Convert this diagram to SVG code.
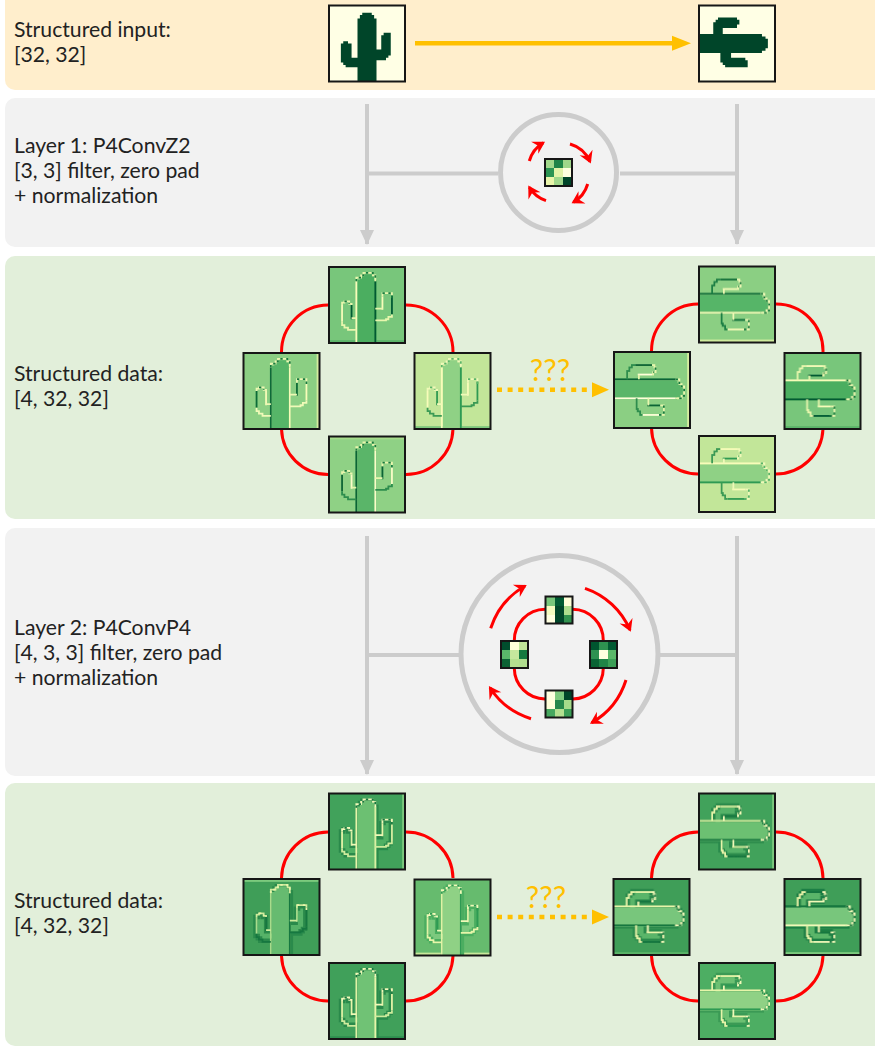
<svg xmlns="http://www.w3.org/2000/svg" width="875" height="1047" viewBox="0 0 875 1047">
<style>
text{font-family:Lato,"Open Sans","Liberation Sans",sans-serif;font-size:21.2px;fill:#222}
.q{font-size:30px;fill:#ffc000;text-anchor:middle}
.gray{fill:none;stroke:#ccc;stroke-width:4}
.ring{fill:none;stroke:#ccc;stroke-width:5}
.arc{fill:none;stroke:#f00;stroke-width:3}
.spin{fill:none;stroke:#f00;stroke-width:3;marker-end:url(#red)}
.gold{fill:none;stroke:#ffc000;stroke-width:4.5}
.dots{stroke-dasharray:5 5.6;marker-end:url(#goldHead)}
.frame{fill:none;stroke:#161616;stroke-width:2}
.ed{fill:none;stroke-width:.75}
</style>
<defs>
<filter id="soft" x="-5%" y="-5%" width="110%" height="110%"><feGaussianBlur stdDeviation="0.45"/></filter>
<marker id="grayHead" markerUnits="userSpaceOnUse" markerWidth="18" markerHeight="18" refX="14" refY="8" orient="auto"><path d="M0 1 L15 8 L0 15 Z" fill="#ccc"/></marker>
<marker id="goldHead" markerUnits="userSpaceOnUse" markerWidth="20" markerHeight="20" refX="1" refY="9" orient="auto"><path d="M0 1.500 L17 9 L0 16.500 Z" fill="#ffc000"/></marker>
<marker id="goldHead2" markerUnits="userSpaceOnUse" markerWidth="22" markerHeight="20" refX="3" refY="9" orient="auto"><path d="M0 1.500 L19 9 L0 16.500 Z" fill="#ffc000"/></marker>
<marker id="red" markerUnits="userSpaceOnUse" markerWidth="16" markerHeight="16" refX="11" refY="8" orient="auto"><path d="M1 1 L13 8 L1 15 L5 8 Z" fill="#f00"/></marker>
<path id="cactus" d="M12 32V5.500H13V4H14V3H18V4H19V5.500H20V18.500H22V12.500H23V11.500H26V21H25V22H24V23H20V26H12V26H7V25H6V24H5V16H6V15H8V16H9.500V22H12Z"/>
<g id="fmap">
<rect width="76" height="76" style="fill:var(--bg)"/>
<g filter="url(#soft)">
<g transform="scale(2.375)">
<rect x="0" y="30.800" width="32" height="1.200" style="fill:var(--sb,none)"/>
<rect x="30.800" y="0" width="1.200" height="32" style="fill:var(--sr,none)"/>
<rect x="0" y="0" width="32" height="1.200" style="fill:var(--st,none)"/>
<path d="M12 32V26H7V25H6V24H5V16H6V15H8V16H9.500V22H12V5.500H13V4H14V3H18V4H19V5.500H20V18.500H22V12.500H23V11.500H26V21H25V22H24V23H20V32" style="fill:var(--arm,none);stroke:var(--halo,none);stroke-width:1.800"/>
<path d="M12 32V5.500H13V4H14V3H18V4H19V5.500H20V32Z" style="fill:var(--tr)"/>
<path class="ed" d="M11.500 32V6M5.500 23V16M22.500 18V12.500" style="stroke:var(--L)"/>
<path class="ed" d="M19.500 32V6M9.500 22V16M26.500 20V12" style="stroke:var(--R)"/>
<path class="ed" d="M11.500 6V4.500H13.500V3.500H14.500V2.500H18.500V3.500H19.500V6M5.500 16V15H6.500V14.500H8.500V15.500H9.500V16M9.500 21.500H11.500M22.500 12.500V11H26.500V12M19.500 17.500H22.500" style="stroke:var(--T)"/>
<path class="ed" d="M5.500 23V24.500H6.500V25.500H8V26.500H11.500M26.500 20V21H25V22H24V22.500H19.500" style="stroke:var(--B)"/>
<path class="ed" stroke-dasharray="1 1.500" d="M11.500 6V4.500H13.500V3.500H14.500V2.500H18.500V3.500H19.500V6M6.500 14.500H8.500V15.500M22.500 11H26.500V13" style="stroke:var(--dot,none)"/>
</g>
</g>
<rect class="frame" width="76" height="76"/>
</g>
</defs>

<g id="panels">
<rect x="5" y="-12" width="880" height="102" rx="10" fill="#ffeecc"/>
<rect x="5" y="98" width="880" height="149" rx="10" fill="#f2f2f2"/>
<rect x="5" y="256" width="880" height="263" rx="10" fill="#e2efda"/>
<rect x="5" y="528" width="880" height="248" rx="10" fill="#f2f2f2"/>
<rect x="5" y="783" width="880" height="263" rx="10" fill="#e2efda"/>
</g>

<g id="labels">
<text x="14" y="37">Structured input:</text><text x="14" y="62">[32, 32]</text>
<text x="14" y="153">Layer 1: P4ConvZ2</text><text x="14" y="178">[3, 3] filter, zero pad</text><text x="14" y="203">+ normalization</text>
<text x="14" y="381">Structured data:</text><text x="14" y="406">[4, 32, 32]</text>
<text x="14" y="635">Layer 2: P4ConvP4</text><text x="14" y="660">[4, 3, 3] filter, zero pad</text><text x="14" y="685">+ normalization</text>
<text x="14" y="908">Structured data:</text><text x="14" y="933">[4, 32, 32]</text>
</g>

<g id="connectors">
<path class="gold" d="M415 43.300H675" marker-end="url(#goldHead2)"/>
<path class="gray" d="M367 104V244" marker-end="url(#grayHead)"/>
<path class="gray" d="M737 104V244" marker-end="url(#grayHead)"/>
<path class="gray" d="M367 173.500H498M620 173.500H737"/>
<path class="gray" d="M367 536V774" marker-end="url(#grayHead)"/>
<path class="gray" d="M737 536V774" marker-end="url(#grayHead)"/>
<path class="gray" d="M367 655H459M660 655H737"/>
<path class="gold dots" d="M497 389.700H593"/>
<path class="gold dots" d="M497 917H593"/>
<path class="arc" d="M328 305A47 47 0 0 0 281.500 352M406 305A47 47 0 0 1 453 352M281.500 429A47 47 0 0 0 328 474.500M453 429A47 47 0 0 1 406 474.500"/>
<path class="arc" d="M698 304A47 47 0 0 0 651.500 351M776 304A47 47 0 0 1 823 352M651.500 428A47 47 0 0 0 698 474M823 429A47 47 0 0 1 776 474"/>
<path class="arc" d="M328 832A47 47 0 0 0 281.500 878M406 832A47 47 0 0 1 453 878M281.500 956A47 47 0 0 0 328 1001M453 956A47 47 0 0 1 406 1001"/>
<path class="arc" d="M698 832A47 47 0 0 0 651.500 878M776 832A47 47 0 0 1 823 878M651.500 956A47 47 0 0 0 698 1001M823 956A47 47 0 0 1 776 1001"/>
<path class="arc" d="M545 609.300A31 31 0 0 0 514.300 640.700M572.700 609.300A31 31 0 0 1 603.300 640.700M514.300 668.300A31 31 0 0 0 545 699M603.300 668.300A31 31 0 0 1 572.700 699"/>
<path class="spin" d="M529.300 161A31 31 0 0 1 543.300 142.700"/>
<path class="spin" d="M570 144A31 31 0 0 1 590 161.700"/>
<path class="spin" d="M587.700 184A31 31 0 0 1 573.300 202.300"/>
<path class="spin" d="M546 200.700A31 31 0 0 1 529.300 187.300"/>
<path class="spin" d="M490.700 628.300A75 75 0 0 1 525 586"/>
<path class="spin" d="M585 588.300A75 75 0 0 1 630 630"/>
<path class="spin" d="M626 680A75 75 0 0 1 591.700 722.700"/>
<path class="spin" d="M531 718.700A75 75 0 0 1 490 687.700"/>
</g>
<text class="q" x="550" y="381">???</text>
<text class="q" x="546" y="908">???</text>

<g id="hub-1"><circle class="ring" cx="558.500" cy="172.500" r="58"/>
<g id="filter-1" shape-rendering="crispEdges"><rect x="545" y="159" width="9" height="9" fill="#a1d98b"/><rect x="554" y="159" width="9" height="9" fill="#1f8447"/><rect x="563" y="159" width="9" height="9" fill="#9fd68a"/><rect x="545" y="168" width="9" height="9" fill="#2c9553"/><rect x="554" y="168" width="9" height="9" fill="#e2f3a8"/><rect x="563" y="168" width="9" height="9" fill="#ffffe0"/><rect x="545" y="177" width="9" height="9" fill="#e9f5ab"/><rect x="554" y="177" width="9" height="9" fill="#a0d88b"/><rect x="563" y="177" width="9" height="9" fill="#004529"/></g>
<rect class="frame" x="545" y="159" width="27" height="27"/></g>

<g id="hub-2"><circle class="ring" cx="559.500" cy="654" r="98.500"/>
<g id="filter-top" transform="translate(545.500,596.500)"><g shape-rendering="crispEdges"><rect width="9" height="9" fill="#78c67b"/><rect x="9" width="9" height="9" fill="#005a32"/><rect x="18" width="9" height="9" fill="#ffffd9"/><rect y="9" width="9" height="9" fill="#f4fbc0"/><rect x="9" y="9" width="9" height="9" fill="#004529"/><rect x="18" y="9" width="9" height="9" fill="#addd8e"/><rect y="18" width="9" height="9" fill="#ffffe0"/><rect x="9" y="18" width="9" height="9" fill="#004529"/><rect x="18" y="18" width="9" height="9" fill="#31924f"/></g><rect class="frame" width="27" height="27"/></g>
<g id="filter-left" transform="translate(501,641)"><g shape-rendering="crispEdges"><rect width="9" height="9" fill="#004e2d"/><rect x="9" width="9" height="9" fill="#ffffd9"/><rect x="18" width="9" height="9" fill="#c2e699"/><rect y="9" width="9" height="9" fill="#5ab86a"/><rect x="9" y="9" width="9" height="9" fill="#c5e79d"/><rect x="18" y="9" width="9" height="9" fill="#15793f"/><rect y="18" width="9" height="9" fill="#0b6334"/><rect x="9" y="18" width="9" height="9" fill="#b4e08f"/><rect x="18" y="18" width="9" height="9" fill="#b0dd8e"/></g><rect class="frame" width="27" height="27"/></g>
<g id="filter-right" transform="translate(590,641)"><g shape-rendering="crispEdges"><rect width="9" height="9" fill="#00562f"/><rect x="9" width="9" height="9" fill="#2e9150"/><rect x="18" width="9" height="9" fill="#005a32"/><rect y="9" width="9" height="9" fill="#2e9150"/><rect x="9" y="9" width="9" height="9" fill="#ffffe0"/><rect x="18" y="9" width="9" height="9" fill="#5ab769"/><rect y="18" width="9" height="9" fill="#0a6435"/><rect x="9" y="18" width="9" height="9" fill="#1f8447"/><rect x="18" y="18" width="9" height="9" fill="#3c9f57"/></g><rect class="frame" width="27" height="27"/></g>
<g id="filter-bottom" transform="translate(545.500,690.500)"><g shape-rendering="crispEdges"><rect width="9" height="9" fill="#ffffe0"/><rect x="9" width="9" height="9" fill="#80ca7f"/><rect x="18" width="9" height="9" fill="#004529"/><rect y="9" width="9" height="9" fill="#ffffd9"/><rect x="9" y="9" width="9" height="9" fill="#26874a"/><rect x="18" y="9" width="9" height="9" fill="#a6db8a"/><rect y="18" width="9" height="9" fill="#46a85f"/><rect x="9" y="18" width="9" height="9" fill="#b3e090"/><rect x="18" y="18" width="9" height="9" fill="#3b9e56"/></g><rect class="frame" width="27" height="27"/></g>
</g>

<g id="input-upright" transform="translate(329,5.500)"><rect width="76" height="76" fill="#ffffe5"/><path d="M12 32V26H7V25H6V24H5V16H6V15H8V16H9.500V22H12V5.500H13V4H14V3H18V4H19V5.500H20V18.500H22V12.500H23V11.500H26V21H25V22H24V23H20V32Z" transform="scale(2.375)" fill="#004529"/><rect class="frame" width="76" height="76"/></g>
<g id="input-rotated" transform="translate(699,5.500)"><rect width="76" height="76" fill="#ffffe5"/><path d="M12 32V26H7V25H6V24H5V16H6V15H8V16H9.500V22H12V5.500H13V4H14V3H18V4H19V5.500H20V18.500H22V12.500H23V11.500H26V21H25V22H24V23H20V32Z" transform="rotate(90 38 38) scale(2.375)" fill="#004529"/><rect class="frame" width="76" height="76"/></g>

<g id="a-top" transform="translate(329,267)" style="--bg:#78c67b;--tr:#4cae61;--L:#f7fcb9;--R:#005a32;--T:#e8f6ad;--B:#e8f6ad;--dot:#157a3f;--sb:#5cb56a"><use href="#fmap"/></g>
<g id="a-left" transform="translate(243.500,353)" style="--bg:#8bcf83;--tr:#57b567;--L:#0e6b38;--R:#f7fcb9;--T:#edf8b3;--B:#f0fab8;--dot:#157a3f;--sr:#d4ee9f"><use href="#fmap"/></g>
<g id="a-right" transform="translate(414.500,353)" style="--bg:#c2e699;--tr:#8fd185;--L:#f7fcb9;--R:#2f9a52;--T:#f0f9b8;--B:#3a9a55;--dot:#5ab569;--sb:#7fc97e"><use href="#fmap"/></g>
<g id="a-bottom" transform="translate(329,436.500)" style="--bg:#8fd185;--tr:#5ab569;--L:#0a6435;--R:#fbfdc8;--T:#e8f6ad;--B:#2d8d4e;--dot:#157a3f;--st:#a8dc8c"><use href="#fmap"/></g>
<g id="b-top" transform="translate(699,266.500)" style="--bg:#8bcf83;--tr:#57b567;--L:#0e6b38;--R:#f7fcb9;--T:#edf8b3;--B:#1d7f45;--dot:#157a3f;--sr:#d4ee9f"><use href="#fmap" transform="rotate(90 38 38)"/></g>
<g id="b-left" transform="translate(614,352)" style="--bg:#8bcf83;--tr:#5ab569;--L:#0a6435;--R:#ffffd9;--T:#e8f6ad;--B:#2d8d4e;--dot:#157a3f;--st:#d4ee9f"><use href="#fmap" transform="rotate(90 38 38)"/></g>
<g id="b-right" transform="translate(784.500,353)" style="--bg:#78c67b;--tr:#4cae61;--L:#f7fcb9;--R:#005a32;--T:#e8f6ad;--B:#e8f6ad;--dot:#157a3f;--sr:#5cb56a"><use href="#fmap" transform="rotate(90 38 38)"/></g>
<g id="b-bottom" transform="translate(699,436)" style="--bg:#c2e699;--tr:#8fd185;--L:#f7fcb9;--R:#2f9a52;--T:#f0f9b8;--B:#3a9a55;--dot:#5ab569"><use href="#fmap" transform="rotate(90 38 38)"/></g>

<g id="c-top" transform="translate(329,793.500)" style="--bg:#41a25b;--tr:#6cc072;--arm:#4fb064;--halo:#2a8a4c;--L:#e6f5a9;--R:#d9f0a3;--T:#f0f9b8;--B:#cdeb9c;--dot:#17773f;--sr:#7ccb7e"><use href="#fmap"/></g>
<g id="c-left" transform="translate(243.500,879)" style="--bg:#3f9e58;--tr:#66bb6f;--arm:#55b267;--halo:#2a8a4c;--L:#a8dc8c;--R:#17773f;--T:#cdeb9c;--B:#17773f;--dot:#e6f5a9;--st:#7ccb7e"><use href="#fmap"/></g>
<g id="c-right" transform="translate(414.500,879.500)" style="--bg:#66bb6e;--tr:#8fd185;--arm:#7cc97e;--halo:#4cae61;--L:#dff2a5;--R:#2f9a52;--T:#f0f9b8;--B:#e6f5a9;--dot:#2f9a52;--sb:#c8e99b"><use href="#fmap"/></g>
<g id="c-bottom" transform="translate(329,963)" style="--bg:#40a05a;--tr:#70c275;--arm:#55b267;--halo:#2a8a4c;--L:#dff2a5;--R:#e6f5a9;--T:#f0f9b8;--B:#cdeb9c;--dot:#17773f;--sb:#2f8f50"><use href="#fmap"/></g>
<g id="d-top" transform="translate(699,793.500)" style="--bg:#41a25b;--tr:#6cc072;--arm:#55b267;--halo:#2a8a4c;--L:#cdeb9c;--R:#17773f;--T:#f0f9b8;--B:#e6f5a9;--dot:#17773f;--st:#7ccb7e"><use href="#fmap" transform="rotate(90 38 38)"/></g>
<g id="d-left" transform="translate(613.500,879)" style="--bg:#3f9e58;--tr:#78c67b;--arm:#5ab569;--halo:#2a8a4c;--L:#e6f5a9;--R:#17773f;--T:#f0f9b8;--B:#e6f5a9;--dot:#17773f;--sr:#5ab569"><use href="#fmap" transform="rotate(90 38 38)"/></g>
<g id="d-right" transform="translate(784.500,879)" style="--bg:#3f9e58;--tr:#78c67b;--arm:#5ab569;--halo:#1f7f45;--L:#17773f;--R:#f0f9b8;--T:#f0f9b8;--B:#e6f5a9;--dot:#17773f;--sr:#7ccb7e"><use href="#fmap" transform="rotate(90 38 38)"/></g>
<g id="d-bottom" transform="translate(699,963)" style="--bg:#4dae63;--tr:#8fd185;--arm:#6cc072;--halo:#3a9a55;--L:#e6f5a9;--R:#2f9a52;--T:#f0f9b8;--B:#e6f5a9;--dot:#2f9a52"><use href="#fmap" transform="rotate(90 38 38)"/></g>
</svg>
